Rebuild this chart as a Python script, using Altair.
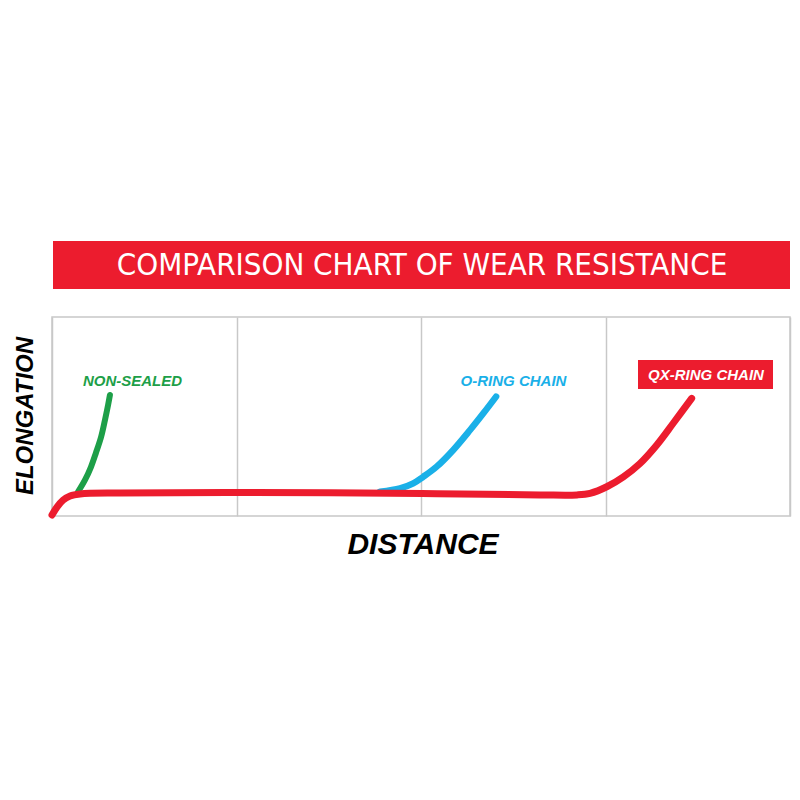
import altair as alt
import pandas as pd

# Distance in grid columns (0-4), elongation in % of plot height (0-100)
qx_distance = [0, 0.027, 0.060, 0.098, 0.152, 0.369, 1.003, 2.005, 2.645, 2.846, 2.916, 3.007, 3.097, 3.187, 3.278, 3.367, 3.467]
qx_elong = [0.5, 4.5, 8.0, 10.1, 11.1, 11.6, 11.8, 11.3, 10.6, 10.6, 11.4, 14.7, 19.7, 26.4, 35.7, 46.6, 59.1]

ns_distance = [0.141, 0.179, 0.211, 0.238, 0.266, 0.287, 0.304, 0.314]
ns_elong = [12.1, 18.1, 24.6, 31.7, 39.7, 48.2, 55.8, 60.8]

or_distance = [1.778, 1.886, 1.958, 2.012, 2.085, 2.175, 2.266, 2.338, 2.407]
or_elong = [12.2, 13.9, 16.4, 19.7, 24.8, 33.2, 43.2, 51.6, 60.0]

grid_values = [0, 1, 2, 3, 4]

title_text = "COMPARISON CHART OF WEAR RESISTANCE"
labels = ["NON-SEALED", "O-RING CHAIN", "QX-RING CHAIN"]
x_title = "DISTANCE"
y_title = "ELONGATION"

RED = "#ec1c2e"
GREEN = "#1d9f48"
BLUE = "#1ab0e8"
GRID = "#c8c8c8"

W, H = 738, 199

xs = alt.Scale(domain=[0, 4], nice=False, zero=False)
ys = alt.Scale(domain=[0, 100], nice=False, zero=False)

def curve(dist, elong, color, width):
    df = pd.DataFrame({"d": dist, "e": elong, "o": list(range(len(dist)))})
    return alt.Chart(df).mark_line(
        color=color, strokeWidth=width, strokeCap="round", strokeJoin="round",
        interpolate="catmull-rom", clip=False
    ).encode(
        x=alt.X("d:Q", scale=xs,
                axis=alt.Axis(values=grid_values, grid=True, gridColor=GRID, gridWidth=1.5,
                              labels=False, ticks=False, domain=False, title=None)),
        y=alt.Y("e:Q", scale=ys, axis=None),
        order="o:Q",
    )

green = curve(ns_distance, ns_elong, GREEN, 6)
blue = curve(or_distance, or_elong, BLUE, 6.5)
red = curve(qx_distance, qx_elong, RED, 7)

one = pd.DataFrame({"a": [0]})
base = alt.Chart(one)

banner = base.mark_rect(color=RED).encode(
    x=alt.value(1), x2=alt.value(738), y=alt.value(-76), y2=alt.value(-28))
banner_text = base.mark_text(
    text=title_text, color="white", fontSize=31, fontWeight=500,
    font="DejaVu Sans Condensed, Liberation Sans Narrow, Roboto Condensed, Roboto",
    align="center", baseline="middle").encode(x=alt.value(370), y=alt.value(-51))

ylab = base.mark_text(text=y_title, font="Liberation Sans", fontSize=24, fontWeight="bold",
                      fontStyle="italic", angle=270, align="center", baseline="middle",
                      color="black").encode(x=alt.value(-26), y=alt.value(99))
xlab = base.mark_text(text=x_title, font="Liberation Sans", fontSize=30, fontWeight="bold",
                      fontStyle="italic", align="center", baseline="middle",
                      color="black").encode(x=alt.value(371), y=alt.value(228))

ns_lab = base.mark_text(text=labels[0], font="Liberation Sans", fontSize=15, fontWeight="bold",
                        fontStyle="italic", color=GREEN, align="center", baseline="middle"
                        ).encode(x=alt.value(80.5), y=alt.value(64))
or_lab = base.mark_text(text=labels[1], font="Liberation Sans", fontSize=15, fontWeight="bold",
                        fontStyle="italic", color=BLUE, align="center", baseline="middle"
                        ).encode(x=alt.value(461.5), y=alt.value(64))
qx_box = base.mark_rect(color=RED).encode(
    x=alt.value(586), x2=alt.value(721), y=alt.value(43), y2=alt.value(72))
qx_lab = base.mark_text(text=labels[2], font="Liberation Sans", fontSize=15, fontWeight="bold",
                        fontStyle="italic", color="white", align="center", baseline="middle"
                        ).encode(x=alt.value(654), y=alt.value(57.5))

chart = alt.layer(
    green, blue, red, banner, banner_text, ylab, xlab, ns_lab, or_lab, qx_box, qx_lab
).properties(
    width=W, height=H,
    autosize=alt.AutoSizeParams(type="none"),
    padding={"left": 44, "top": 309, "right": 2, "bottom": 260},
    background="white",
).configure_view(stroke=GRID, strokeWidth=1.5)

chart.save("out.html", embed_options={"renderer": "svg", "actions": False})
